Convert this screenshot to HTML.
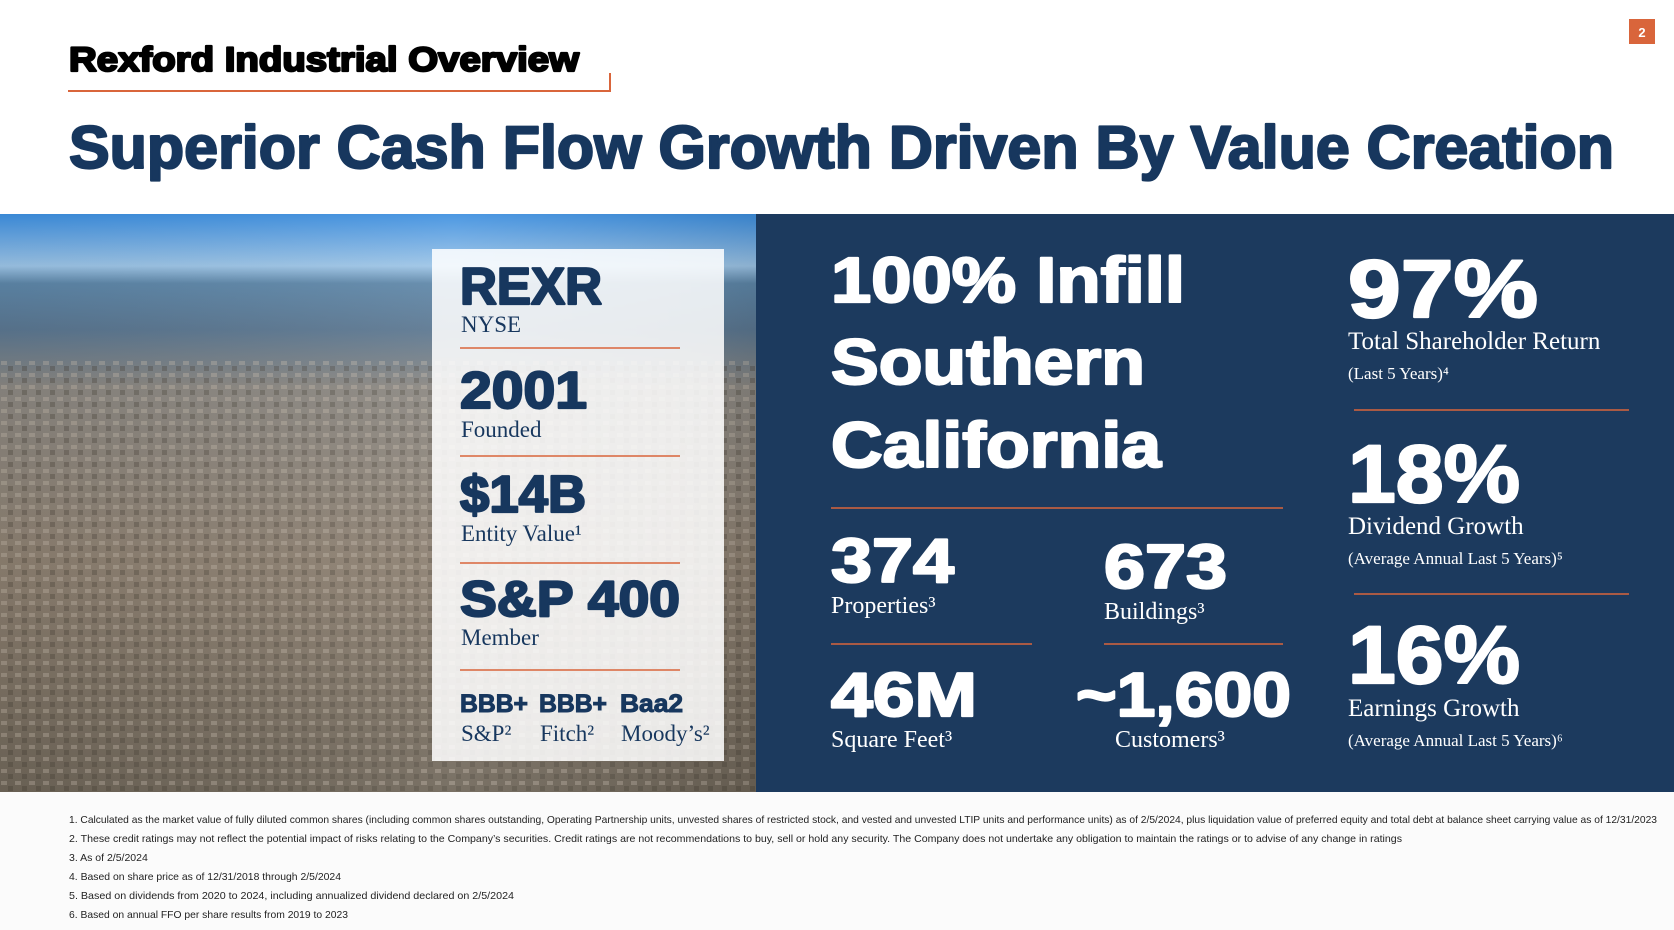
<!DOCTYPE html>
<html><head><meta charset="utf-8"><style>
html,body{margin:0;padding:0;background:#fff;}
svg{display:block;}
.h{font-family:"Liberation Sans",sans-serif;font-weight:bold;}
.s{font-family:"Liberation Serif",serif;}
.hv{stroke-width:2.2;stroke-linejoin:round;}
</style></head><body>
<svg width="1674" height="930" viewBox="0 0 1674 930">
<defs>
<linearGradient id="photo" x1="0" y1="0" x2="0" y2="1">
<stop offset="0" stop-color="#3d8fe0"/><stop offset="0.09" stop-color="#9cc4e6"/>
<stop offset="0.12" stop-color="#5d86a8"/><stop offset="0.2" stop-color="#5a7690"/>
<stop offset="0.3" stop-color="#8a8680"/><stop offset="0.6" stop-color="#8c7f70"/>
<stop offset="1" stop-color="#6e6558"/></linearGradient>
<linearGradient id="photoR" x1="0" y1="0" x2="1" y2="0">
<stop offset="0" stop-color="#000" stop-opacity="0.05"/><stop offset="0.6" stop-color="#fff" stop-opacity="0.08"/><stop offset="1" stop-color="#000" stop-opacity="0.1"/></linearGradient>
<pattern id="city" width="14" height="12" patternUnits="userSpaceOnUse">
<rect width="14" height="12" fill="none"/><rect x="1" y="1" width="6" height="4" fill="#c8bcae" fill-opacity="0.35"/><rect x="8" y="6" width="5" height="5" fill="#3e3730" fill-opacity="0.3"/></pattern>
</defs>
<rect width="1674" height="930" fill="#fff"/>
<rect x="0" y="792" width="1674" height="138" fill="#fbfbfb"/>

<text x="69" y="71" class="h hv" stroke="#000" stroke-width="1.5" font-size="34" fill="#000" textLength="510" lengthAdjust="spacingAndGlyphs">Rexford Industrial Overview</text>
<path d="M68 91 H610 V73" fill="none" stroke="#d9653b" stroke-width="2"/>
<rect x="1629" y="19" width="26" height="25" fill="#d9653b"/>
<text x="1642" y="37" class="h" font-size="13" fill="#fff" text-anchor="middle">2</text>
<text x="69" y="168" class="h hv" stroke="#17375e" font-size="60" fill="#17375e" textLength="1545" lengthAdjust="spacingAndGlyphs">Superior Cash Flow Growth Driven By Value Creation</text>

<rect x="0" y="214" width="756" height="578" fill="url(#photo)"/>
<rect x="0" y="360" width="756" height="432" fill="url(#city)"/>
<rect x="0" y="214" width="756" height="578" fill="url(#photoR)"/>
<rect x="432" y="249" width="292" height="512" fill="#fff" fill-opacity="0.86"/>
<g fill="#17375e">
<text x="460" y="304" class="h hv" stroke="#17375e" font-size="52" textLength="142" lengthAdjust="spacingAndGlyphs">REXR</text>
<text x="461" y="332" class="s" font-size="23">NYSE</text>
<text x="460" y="408" class="h hv" stroke="#17375e" font-size="52" textLength="127" lengthAdjust="spacingAndGlyphs">2001</text>
<text x="461" y="437" class="s" font-size="23">Founded</text>
<text x="460" y="512" class="h hv" stroke="#17375e" font-size="52" textLength="126" lengthAdjust="spacingAndGlyphs">$14B</text>
<text x="461" y="541" class="s" font-size="23">Entity Value¹</text>
<text x="460" y="616" class="h hv" stroke="#17375e" font-size="50" textLength="220" lengthAdjust="spacingAndGlyphs">S&amp;P 400</text>
<text x="461" y="645" class="s" font-size="23">Member</text>
<text x="460" y="712" class="h" stroke="#17375e" stroke-width="1" font-size="25" textLength="68" lengthAdjust="spacingAndGlyphs">BBB+</text>
<text x="539" y="712" class="h" stroke="#17375e" stroke-width="1" font-size="25" textLength="68" lengthAdjust="spacingAndGlyphs">BBB+</text>
<text x="620" y="712" class="h" stroke="#17375e" stroke-width="1" font-size="25" textLength="63" lengthAdjust="spacingAndGlyphs">Baa2</text>
<text x="461" y="741" class="s" font-size="23">S&amp;P²</text>
<text x="540" y="741" class="s" font-size="23">Fitch²</text>
<text x="621" y="741" class="s" font-size="23">Moody’s²</text>
</g>
<g stroke="#d9653b" stroke-width="1.5">
<line x1="460" y1="348" x2="680" y2="348"/><line x1="460" y1="456" x2="680" y2="456"/>
<line x1="460" y1="563" x2="680" y2="563"/><line x1="460" y1="670" x2="680" y2="670"/>
</g>

<rect x="756" y="214" width="918" height="578" fill="#1c3a5e"/>
<g fill="#fff">
<g stroke="#fff" class="hv">
<text x="831" y="302" class="h" font-size="64" textLength="354" lengthAdjust="spacingAndGlyphs">100% Infill</text>
<text x="831" y="384" class="h" font-size="64" textLength="314" lengthAdjust="spacingAndGlyphs">Southern</text>
<text x="831" y="467" class="h" font-size="64" textLength="330" lengthAdjust="spacingAndGlyphs">California</text>
<text x="831" y="582" class="h" font-size="62" textLength="123" lengthAdjust="spacingAndGlyphs">374</text>
<text x="1104" y="588" class="h" font-size="62" textLength="123" lengthAdjust="spacingAndGlyphs">673</text>
<text x="831" y="716" class="h" font-size="62" textLength="146" lengthAdjust="spacingAndGlyphs">46M</text>
<text x="1076" y="716" class="h" font-size="62" textLength="215" lengthAdjust="spacingAndGlyphs">~1,600</text>
<text x="1348" y="317" class="h" font-size="82" textLength="190" lengthAdjust="spacingAndGlyphs">97%</text>
<text x="1348" y="502" class="h" font-size="82" textLength="172" lengthAdjust="spacingAndGlyphs">18%</text>
<text x="1348" y="683" class="h" font-size="82" textLength="172" lengthAdjust="spacingAndGlyphs">16%</text>
</g>
<text x="831" y="613" class="s" font-size="24">Properties³</text>
<text x="1104" y="619" class="s" font-size="24">Buildings³</text>
<text x="831" y="747" class="s" font-size="24">Square Feet³</text>
<text x="1115" y="747" class="s" font-size="24">Customers³</text>
<text x="1348" y="349" class="s" font-size="25">Total Shareholder Return</text>
<text x="1348" y="379" class="s" font-size="17">(Last 5 Years)⁴</text>
<text x="1348" y="534" class="s" font-size="25">Dividend Growth</text>
<text x="1348" y="564" class="s" font-size="17">(Average Annual Last 5 Years)⁵</text>
<text x="1348" y="716" class="s" font-size="25">Earnings Growth</text>
<text x="1348" y="746" class="s" font-size="17">(Average Annual Last 5 Years)⁶</text>
</g>
<g stroke="#d9653b" stroke-width="1.5">
<line x1="831" y1="508" x2="1283" y2="508"/>
<line x1="831" y1="644" x2="1032" y2="644"/><line x1="1104" y1="644" x2="1283" y2="644"/>
<line x1="1354" y1="410" x2="1629" y2="410"/><line x1="1354" y1="594" x2="1629" y2="594"/>
</g>

<g font-size="10.5" fill="#222" font-family="Liberation Sans, sans-serif">
<text x="69" y="823" textLength="1588" lengthAdjust="spacingAndGlyphs">1.  Calculated as the market value of fully diluted common shares (including common shares outstanding, Operating Partnership units, unvested shares of restricted stock, and vested and unvested LTIP units and performance units) as of 2/5/2024, plus liquidation value of preferred equity and total debt at balance sheet carrying value as of 12/31/2023</text>
<text x="69" y="842" textLength="1333" lengthAdjust="spacingAndGlyphs">2.  These credit ratings may not reflect the potential impact of risks relating to the Company’s securities. Credit ratings are not recommendations to buy, sell or hold any security. The Company does not undertake any obligation to maintain the ratings or to advise of any change in ratings</text>
<text x="69" y="861">3.  As of 2/5/2024</text>
<text x="69" y="880" textLength="272" lengthAdjust="spacingAndGlyphs">4.  Based on share price as of 12/31/2018 through 2/5/2024</text>
<text x="69" y="899" textLength="445" lengthAdjust="spacingAndGlyphs">5.  Based on dividends from 2020 to 2024, including annualized dividend declared on 2/5/2024</text>
<text x="69" y="918" textLength="279" lengthAdjust="spacingAndGlyphs">6.  Based on annual FFO per share results from 2019 to 2023</text>
</g>
</svg>
</body></html>
